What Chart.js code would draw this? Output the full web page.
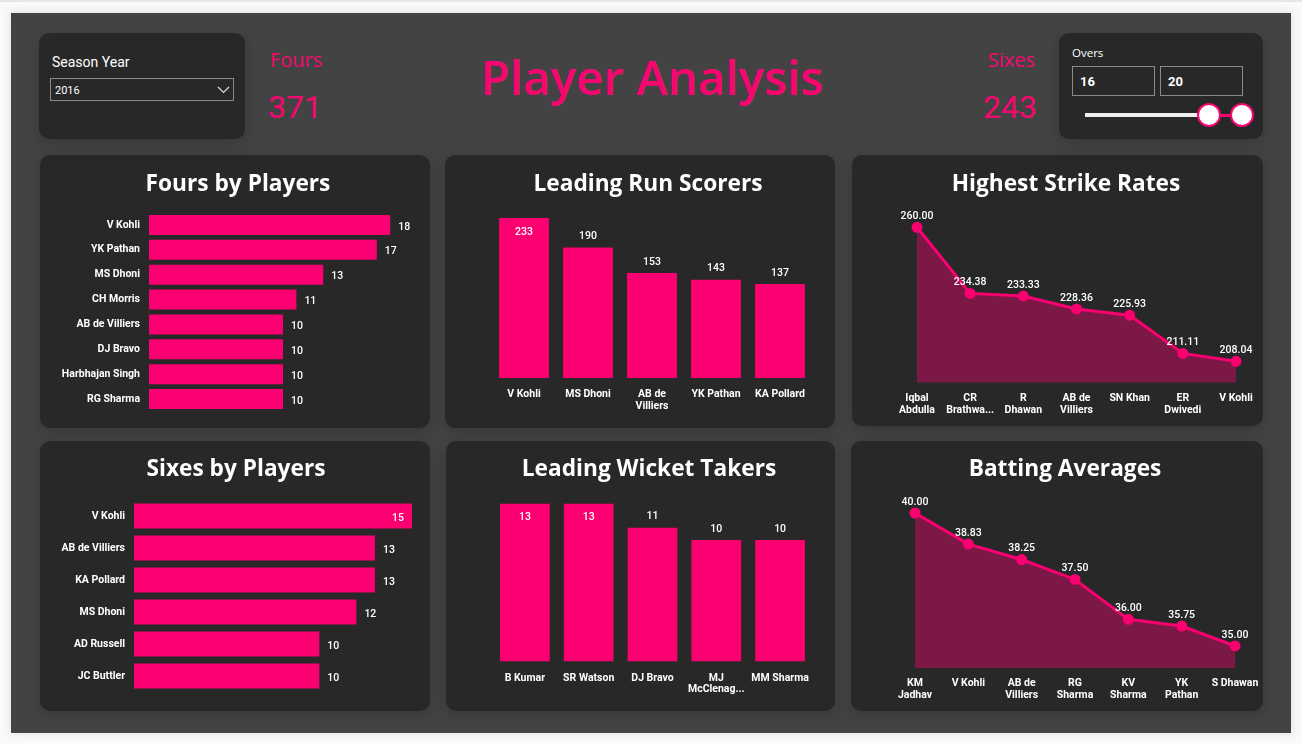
<!DOCTYPE html>
<html>
<head>
<meta charset="utf-8">
<script src="https://cdn.jsdelivr.net/npm/chart.js@4/dist/chart.umd.js"></script>
<style>
  html, body { margin: 0; height: 100%; background: #fafafa; overflow: hidden; }
  body { font-family: "Open Sans", sans-serif; color: #fff; }
  .topbar { position: absolute; left: 0; top: 0; width: 1302px; height: 2px; background: #e6e6e6; }
  .page { position: absolute; left: 11px; top: 13px; width: 1280px; height: 720px; background: #434343; box-shadow: 0 0 10px rgba(0,0,0,.12); }
  .card { position: absolute; background: #282828; border-radius: 10px; box-shadow: 0 4px 14px rgba(0,0,0,.18); }
  .card canvas { position: absolute; left: 0; top: 0; }
  .title { position: absolute; font-size: 22.7px; font-weight: 700; line-height: 32px; white-space: nowrap; transform: translateX(-50%); color: #fff; z-index: 2; }
  .abs { position: absolute; white-space: nowrap; }
  .pink { color: #f5076f; }
  .box { position: absolute; box-sizing: border-box; border: 1.5px solid #8a8a8a; }
  .knob { position: absolute; width: 24px; height: 24px; box-sizing: border-box; border-radius: 50%; background: #fff; border: 2px solid #f5076f; }
</style>
</head>
<body>
<div class="topbar"></div>
<div class="page"></div>

<div class="card" style="left:39px;top:33px;width:206px;height:106px"></div>
<div class="abs" style="left:52px;top:52px;font:400 14px/20px Roboto">Season Year</div>
<div class="box" style="left:50px;top:78px;width:184px;height:23px"></div>
<div class="abs" style="left:55px;top:83px;font:400 11px/15px Roboto">2016</div>
<svg class="abs" style="left:217px;top:86px" width="13" height="8"><path d="M1 1 L6.5 6.5 L12 1" fill="none" stroke="#ddd" stroke-width="1.2"/></svg>

<div class="abs pink" style="left:270px;top:45px;font:400 20px/30px 'Open Sans'">Fours</div>
<div class="abs pink" style="left:268px;top:85px;font:400 32px/44px Roboto">371</div>
<div class="abs pink" style="left:452px;top:44px;width:400px;text-align:center;font:600 47.5px/66px 'Open Sans'">Player Analysis</div>
<div class="abs pink" style="left:975px;top:45px;width:60px;text-align:right;font:400 20px/30px 'Open Sans'">Sixes</div>
<div class="abs pink" style="left:977px;top:85px;width:60px;text-align:right;font:400 32px/44px Roboto">243</div>

<div class="card" style="left:1059px;top:33px;width:204px;height:106px"></div>
<div class="abs" style="left:1072px;top:45px;font:500 11.5px/16px 'Open Sans';color:#fff">Overs</div>
<div class="box" style="left:1072px;top:66px;width:83px;height:30px"></div>
<div class="box" style="left:1160px;top:66px;width:83px;height:30px"></div>
<div class="abs" style="left:1080px;top:73px;font:700 13px/17px Roboto">16</div>
<div class="abs" style="left:1168px;top:73px;font:700 13px/17px Roboto">20</div>
<div class="abs" style="left:1085px;top:113px;width:120px;height:4px;background:#eee"></div>
<div class="abs" style="left:1209px;top:114px;width:33px;height:3px;background:#f5076f"></div>
<div class="knob" style="left:1197px;top:103px"></div>
<div class="knob" style="left:1230px;top:103px"></div>

<div class="card" style="left:40px;top:155px;width:390px;height:273px"><canvas id="chart-fours" width="390" height="273"></canvas></div>
<div class="card" style="left:445px;top:155px;width:390px;height:273px"><canvas id="chart-runs" width="390" height="273"></canvas></div>
<div class="card" style="left:852px;top:155px;width:411px;height:271px"><canvas id="chart-strike" width="411" height="271"></canvas></div>
<div class="card" style="left:40px;top:441px;width:390px;height:270px"><canvas id="chart-sixes" width="390" height="270"></canvas></div>
<div class="card" style="left:446px;top:441px;width:389px;height:270px"><canvas id="chart-wickets" width="389" height="270"></canvas></div>
<div class="card" style="left:851px;top:441px;width:412px;height:270px"><canvas id="chart-average" width="412" height="270"></canvas></div>

<div class="title" style="left:238px;top:167px">Fours by Players</div>
<div class="title" style="left:648px;top:167px">Leading Run Scorers</div>
<div class="title" style="left:1066px;top:167px">Highest Strike Rates</div>
<div class="title" style="left:236px;top:452px">Sixes by Players</div>
<div class="title" style="left:649px;top:452px">Leading Wicket Takers</div>
<div class="title" style="left:1065px;top:452px">Batting Averages</div>

<script>
const foursPlayers = ["V Kohli", "YK Pathan", "MS Dhoni", "CH Morris", "AB de Villiers", "DJ Bravo", "Harbhajan Singh", "RG Sharma"];
const foursValues = [18, 17, 13, 11, 10, 10, 10, 10];

const sixesPlayers = ["V Kohli", "AB de Villiers", "KA Pollard", "MS Dhoni", "AD Russell", "JC Buttler"];
const sixesValues = [15, 13, 13, 12, 10, 10];

const runPlayers = ["V Kohli", "MS Dhoni", ["AB de", "Villiers"], "YK Pathan", "KA Pollard"];
const runValues = [233, 190, 153, 143, 137];

const wicketPlayers = ["B Kumar", "SR Watson", "DJ Bravo", ["MJ", "McClenag..."], "MM Sharma"];
const wicketValues = [13, 13, 11, 10, 10];

const strikePlayers = [["Iqbal", "Abdulla"], ["CR", "Brathwa..."], ["R", "Dhawan"], ["AB de", "Villiers"], "SN Khan", ["ER", "Dwivedi"], "V Kohli"];
const strikeValues = [260.0, 234.38, 233.33, 228.36, 225.93, 211.11, 208.04];

const averagePlayers = [["KM", "Jadhav"], "V Kohli", ["AB de", "Villiers"], ["RG", "Sharma"], ["KV", "Sharma"], ["YK", "Pathan"], "S Dhawan"];
const averageValues = [40.0, 38.83, 38.25, 37.5, 36.0, 35.75, 35.0];

const PINK = "#fa0070";
const LABEL_FONT = { family: "Roboto", size: 10.5, weight: "700", lineHeight: 1.1 };

// value labels, drawn from the elements the library has already placed
const valueLabels = {
  id: "valueLabels",
  afterDatasetsDraw(chart, args, opts) {
    const { ctx } = chart;
    const meta = chart.getDatasetMeta(0);
    const values = chart.data.datasets[0].data;
    ctx.save();
    ctx.font = `500 ${LABEL_FONT.size}px ${LABEL_FONT.family}`;
    ctx.fillStyle = "#fff";
    ctx.textBaseline = "middle";
    meta.data.forEach((el, i) => {
      const text = values[i].toFixed(opts.decimals || 0);
      if (opts.mode === "horizontal") {
        const inside = values[i] >= chart.scales.x.max;
        ctx.textAlign = inside ? "right" : "left";
        ctx.fillText(text, el.x + (inside ? -8 : 8), el.y + 2);
      } else {
        const inside = opts.mode === "vertical" && values[i] >= chart.scales.y.max;
        ctx.textAlign = "center";
        ctx.fillText(text, el.x, el.y + (inside ? 14 : -11));
      }
    });
    ctx.restore();
  },
};

function axisTicks(padding) {
  return { color: "#fff", font: LABEL_FONT, padding, autoSkip: false, maxRotation: 0, minRotation: 0 };
}

const hiddenGrid = { display: false, drawTicks: false };

// the axis box is pinned so the plot area lands at a known place in the card
function fixedWidth(width) {
  return (scale) => { scale.width = width; scale.paddingTop = 0; scale.paddingBottom = 0; };
}
function fixedHeight(height) {
  return (scale) => { scale.height = height; scale.paddingLeft = 0; scale.paddingRight = 0; };
}

function barHorizontal(id, labels, values, max, barPercentage, axisWidth, padding) {
  return new Chart(document.getElementById(id), {
    type: "bar",
    data: { labels, datasets: [{ data: values, backgroundColor: PINK, barPercentage, categoryPercentage: 1 }] },
    options: {
      indexAxis: "y",
      responsive: false,
      animation: false,
      layout: { padding },
      plugins: { legend: { display: false }, tooltip: { enabled: false }, valueLabels: { mode: "horizontal" } },
      scales: {
        x: { display: false, min: 0, max },
        y: { grid: hiddenGrid, border: { display: false }, ticks: axisTicks(9), afterFit: fixedWidth(axisWidth) },
      },
    },
    plugins: [valueLabels],
  });
}

function barVertical(id, labels, values, barPercentage, axisHeight, padding) {
  return new Chart(document.getElementById(id), {
    type: "bar",
    data: { labels, datasets: [{ data: values, backgroundColor: PINK, barPercentage, categoryPercentage: 1 }] },
    options: {
      responsive: false,
      animation: false,
      layout: { padding },
      plugins: { legend: { display: false }, tooltip: { enabled: false }, valueLabels: { mode: "vertical" } },
      scales: {
        x: { grid: hiddenGrid, border: { display: false }, ticks: axisTicks(11), afterFit: fixedHeight(axisHeight) },
        y: { display: false, min: 0, max: Math.max(...values) },
      },
    },
    plugins: [valueLabels],
  });
}

function areaLine(id, labels, values, min, max, axisHeight, padding) {
  return new Chart(document.getElementById(id), {
    type: "line",
    data: {
      labels,
      datasets: [{
        data: values,
        borderColor: PINK,
        borderWidth: 3,
        backgroundColor: "rgba(250,0,112,0.4)",
        fill: "start",
        tension: 0,
        pointRadius: 4,
        pointBackgroundColor: PINK,
        pointBorderColor: PINK,
        clip: false,
      }],
    },
    options: {
      responsive: false,
      animation: false,
      layout: { padding },
      plugins: { legend: { display: false }, tooltip: { enabled: false }, valueLabels: { mode: "line", decimals: 2 } },
      scales: {
        x: { grid: hiddenGrid, border: { display: false }, ticks: axisTicks(10), afterFit: fixedHeight(axisHeight) },
        y: { display: false, min, max },
      },
    },
    plugins: [valueLabels],
  });
}

barHorizontal("chart-fours", foursPlayers, foursValues, 20, 0.8, 109, { right: 13, top: 57.5, bottom: 16.5 });
barHorizontal("chart-sixes", sixesPlayers, sixesValues, 15, 0.78, 94, { right: 18, top: 59, bottom: 19 });
barVertical("chart-runs", runPlayers, runValues, 0.78, 50, { left: 47, right: 23, top: 63 });
barVertical("chart-wickets", wicketPlayers, wicketValues, 0.78, 49.5, { left: 47, right: 23, top: 62.5 });
areaLine("chart-strike", strikePlayers, strikeValues, 199.75, 260, 43.3, { left: 65, right: 27, top: 72.3 });
areaLine("chart-average", averagePlayers, averageValues, 34.17, 40, 43, { left: 64, right: 28, top: 72 });
</script>
</body>
</html>
